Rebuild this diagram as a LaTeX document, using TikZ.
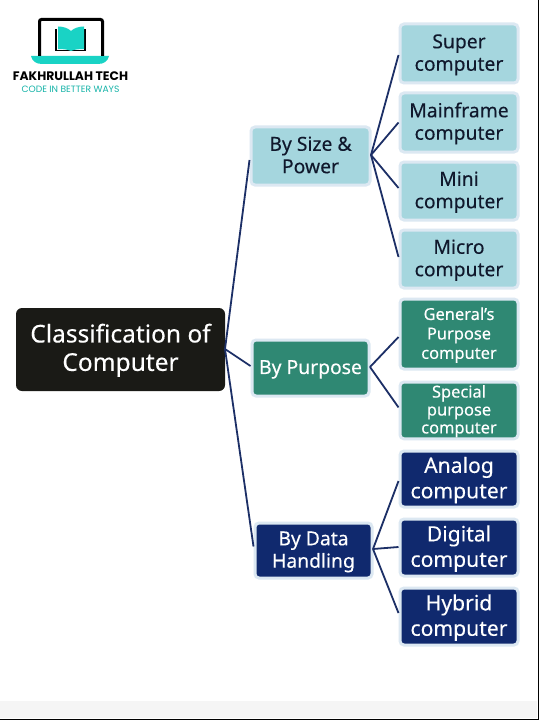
\documentclass[tikz,border=0pt]{standalone}
\usepackage{fontspec}
\setmainfont{Noto Sans}[FakeBold=0.2]
\newfontfamily\logofont{Poppins}
\newcommand{\lowtext}[1]{\raisebox{0pt}[\dimexpr\height+3bp\relax][\depth]{\begin{tabular}{@{}c@{}}#1\end{tabular}}}
\definecolor{lightbox}{HTML}{A5D6DE}
\definecolor{greenbox}{HTML}{2F8873}
\definecolor{navybox}{HTML}{10296E}
\definecolor{rootbox}{HTML}{1A1A16}
\definecolor{halo}{HTML}{DCE8F2}
\definecolor{linkcol}{HTML}{1C2F66}
\definecolor{tealmark}{HTML}{19D3C5}
\definecolor{darktext}{HTML}{10182C}
\tikzset{
  x=1bp,y=-1bp,
  boxbase/.style={draw=halo,line width=3bp,rounded corners=4bp,inner sep=0pt,outer sep=0pt,anchor=north west},
  lightnode/.style={boxbase,fill=lightbox,text=darktext},
  greennode/.style={boxbase,fill=greenbox,text=white},
  navynode/.style={boxbase,fill=navybox,text=white},
  rootnode/.style={draw=none,fill=rootbox,text=white,rounded corners=6bp,inner sep=0pt,outer sep=0pt,anchor=north west},
  link/.style={draw=linkcol,line width=1.8bp},
  sz/.style 2 args={minimum width=#1 bp,minimum height=#2 bp},
  lbl/.style={font=\fontsize{19.4}{22.5}\selectfont},
  lblsmall/.style={font=\fontsize{16.5}{19.5}\selectfont},
  lblsp/.style={font=\fontsize{16.5}{18}\selectfont},
  lblbig/.style={font=\fontsize{21.2}{25.5}\selectfont},
}
\begin{document}
\begin{tikzpicture}
\useasboundingbox (0,0) rectangle (539,720);
\fill[white] (0,0) rectangle (539,720);
\fill[black!4] (0,701) rectangle (537,718);
\fill[black] (537.5,0) rectangle (539,720);
\fill[black] (0,718.8) rectangle (539,720);

% logo
\fill[tealmark] (31,56) -- (109,56) .. controls (108,61) and (104,64) .. (98,64) -- (42,64) .. controls (36,64) and (32,61) .. (31,56) -- cycle;
\draw[black,line width=3bp,rounded corners=2bp] (39.5,56) -- (39.5,19.5) -- (102.5,19.5) -- (102.5,56);
\draw[black,line width=1.2bp] (56,29) -- (56,50.5) -- (85,50.5) -- (85,29);
\fill[tealmark] (58,26.5) .. controls (63,26.5) and (68,28) .. (71,31) .. controls (74,28) and (79,26.5) .. (84,26.5) -- (84,49) .. controls (79,49) and (74,49.5) .. (71,51) .. controls (68,49.5) and (63,49) .. (58,49) -- cycle;
\node[font=\logofont\bfseries\fontsize{12.4}{14}\selectfont,text=black,inner sep=0pt] (brand) at (70.5,76) {FAKHRULLAH TECH};
\node[font=\logofont\fontsize{9.2}{10}\selectfont,text=tealmark!85!black,inner sep=0pt] (slogan) at (70.5,89) {CODE IN BETTER WAYS};

% nodes
\node[rootnode,sz={209}{83},font=\fontsize{24.6}{28.5}\selectfont] (root) at (16,308) {\lowtext{Classification of\\Computer}};
\node[lightnode,sz={119}{58},lbl] (size) at (251,127) {\lowtext{By Size \&\\Power}};
\node[greennode,sz={117}{56},lbl] (purpose) at (252,340) {\lowtext{By Purpose}};
\node[navynode,sz={117}{55},lbl] (data) at (255,523) {\lowtext{By Data\\Handling}};

\node[lightnode,sz={118}{59},lbl] (super) at (400,24) {\lowtext{Super\\computer}};
\node[lightnode,sz={118}{59},lbl] (main) at (400,93) {\lowtext{Mainframe\\computer}};
\node[lightnode,sz={118}{58},lbl] (mini) at (400,162) {\lowtext{Mini\\computer}};
\node[lightnode,sz={118}{58},lbl] (micro) at (400,230) {\lowtext{Micro\\computer}};
\node[greennode,sz={118}{70},lblsmall] (general) at (400,299) {\lowtext{General’s\\Purpose\\computer}};
\node[greennode,sz={118}{56},lblsp] (special) at (400,382) {\lowtext{Special\\purpose\\computer}};
\node[navynode,sz={118}{56},lblbig] (analog) at (400,451) {\lowtext{Analog\\computer}};
\node[navynode,sz={118}{57},lblbig] (digital) at (400,519) {\lowtext{Digital\\computer}};
\node[navynode,sz={118}{57},lblbig] (hybrid) at (400,588) {\lowtext{Hybrid\\computer}};

% connectors (explicit bp shifts are in page axes: positive y is up)
\coordinate (rootout) at ([yshift=0.5bp]root.east);
\draw[link] (rootout) -- ([shift={(-1.5bp,-4bp)}]size.west);
\draw[link] (rootout) -- ([shift={(-1.5bp,2bp)}]purpose.west);
\draw[link] (rootout) -- ([shift={(-1.5bp,4bp)}]data.west);
\coordinate (sizeout) at ([shift={(1bp,1bp)}]size.east);
\draw[link] (sizeout) -- ([shift={(-1.5bp,-1.5bp)}]super.west);
\draw[link] (sizeout) -- ([shift={(-1.5bp,0bp)}]main.west);
\draw[link] (sizeout) -- ([shift={(-1.5bp,3bp)}]mini.west);
\draw[link] (sizeout) -- ([shift={(-1.5bp,2bp)}]micro.west);
\coordinate (purposeout) at ([shift={(1bp,1bp)}]purpose.east);
\draw[link] (purposeout) -- ([shift={(-1.5bp,-3bp)}]general.west);
\draw[link] (purposeout) -- ([shift={(-1.5bp,3bp)}]special.west);
\coordinate (dataout) at ([shift={(1bp,1.5bp)}]data.east);
\draw[link] (dataout) -- ([shift={(-1.5bp,-2bp)}]analog.west);
\draw[link] (dataout) -- ([shift={(-1.5bp,0.5bp)}]digital.west);
\draw[link] (dataout) -- ([shift={(-1.5bp,3.5bp)}]hybrid.west);
\end{tikzpicture}
\end{document}
